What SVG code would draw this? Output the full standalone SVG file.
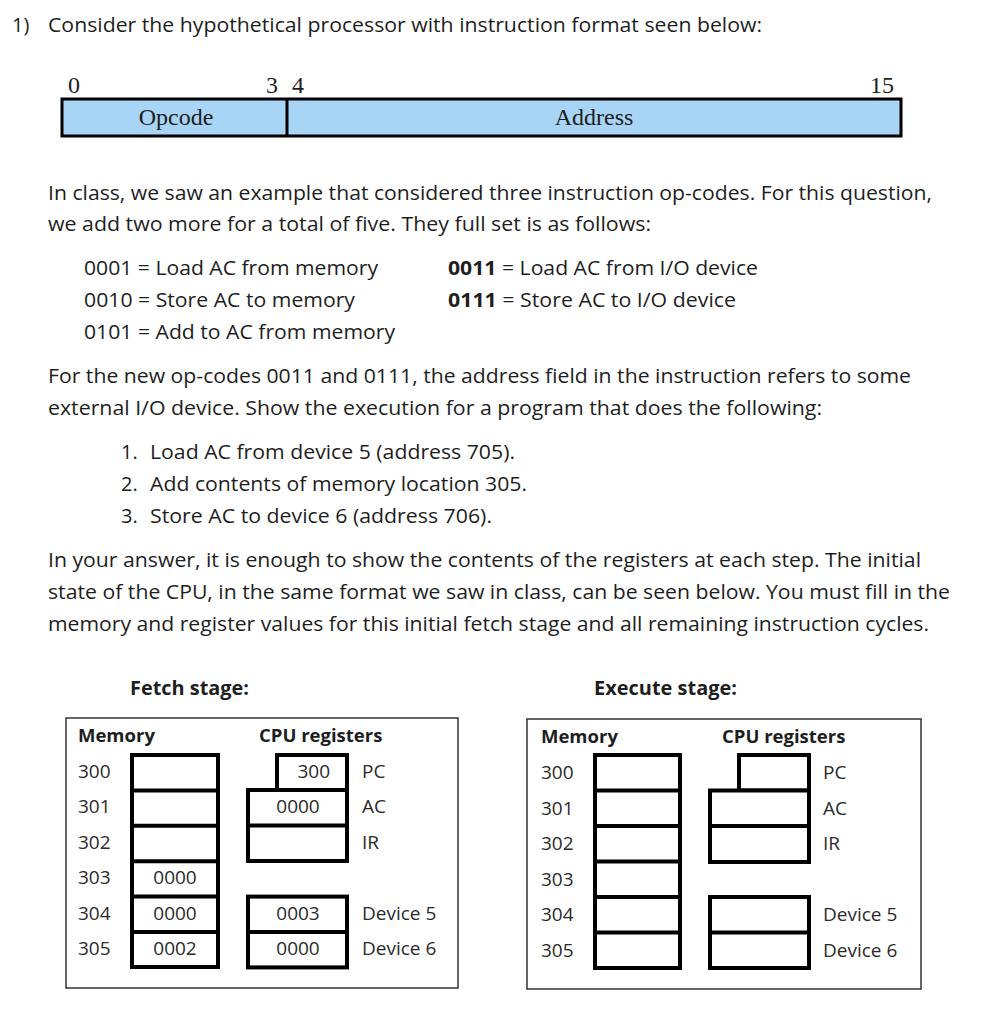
<svg xmlns="http://www.w3.org/2000/svg" width="989" height="1024" viewBox="0 0 989 1024">
<style>
.t{font-family:"Open Sans","Liberation Sans",sans-serif;font-size:20px;fill:#1e1e1e}
.b{font-weight:bold}
.s{font-family:"Liberation Serif","DejaVu Serif",serif;font-size:24px;fill:#1e1e1e}
.c{font-family:"Open Sans","Liberation Sans",sans-serif;font-size:19px;fill:#2a2a2a}
.h{font-family:"Open Sans","Liberation Sans",sans-serif;font-size:18.5px;font-weight:bold;fill:#1e1e1e}
.reg{fill:#fff;stroke:#000;stroke-width:4}
.ln{stroke:#000;stroke-width:4}
.panel{fill:#fff;stroke:#333;stroke-width:1.5}
</style>
<rect width="989" height="1024" fill="#fff"/>

<g id="text">
<text class="t" x="12" y="32">1)</text>
<text class="t" x="48" y="32" textLength="714" lengthAdjust="spacingAndGlyphs">Consider the hypothetical processor with instruction format seen below:</text>
<text class="t" x="48" y="200" textLength="884" lengthAdjust="spacingAndGlyphs">In class, we saw an example that considered three instruction op-codes. For this question,</text>
<text class="t" x="48" y="231" textLength="603" lengthAdjust="spacingAndGlyphs">we add two more for a total of five. They full set is as follows:</text>
<text class="t" x="84" y="275" textLength="294" lengthAdjust="spacingAndGlyphs">0001 = Load AC from memory</text>
<text class="t" x="448" y="275" textLength="310" lengthAdjust="spacingAndGlyphs"><tspan class="b">0011</tspan> = Load AC from I/O device</text>
<text class="t" x="84" y="307" textLength="271" lengthAdjust="spacingAndGlyphs">0010 = Store AC to memory</text>
<text class="t" x="448" y="307" textLength="288" lengthAdjust="spacingAndGlyphs"><tspan class="b">0111</tspan> = Store AC to I/O device</text>
<text class="t" x="84" y="339" textLength="311" lengthAdjust="spacingAndGlyphs">0101 = Add to AC from memory</text>
<text class="t" x="48" y="383" textLength="863" lengthAdjust="spacingAndGlyphs">For the new op-codes 0011 and 0111, the address field in the instruction refers to some</text>
<text class="t" x="48" y="415" textLength="774" lengthAdjust="spacingAndGlyphs">external I/O device. Show the execution for a program that does the following:</text>
<text class="t" x="121" y="459">1.</text>
<text class="t" x="150" y="459" textLength="365" lengthAdjust="spacingAndGlyphs">Load AC from device 5 (address 705).</text>
<text class="t" x="121" y="491">2.</text>
<text class="t" x="150" y="491" textLength="377" lengthAdjust="spacingAndGlyphs">Add contents of memory location 305.</text>
<text class="t" x="121" y="523">3.</text>
<text class="t" x="150" y="523" textLength="342" lengthAdjust="spacingAndGlyphs">Store AC to device 6 (address 706).</text>
<text class="t" x="48" y="567" textLength="873" lengthAdjust="spacingAndGlyphs">In your answer, it is enough to show the contents of the registers at each step. The initial</text>
<text class="t" x="48" y="599" textLength="902" lengthAdjust="spacingAndGlyphs">state of the CPU, in the same format we saw in class, can be seen below. You must fill in the</text>
<text class="t" x="48" y="631" textLength="881" lengthAdjust="spacingAndGlyphs">memory and register values for this initial fetch stage and all remaining instruction cycles.</text>
<text class="t b" x="130" y="695" textLength="119" lengthAdjust="spacingAndGlyphs">Fetch stage:</text>
<text class="t b" x="594" y="695" textLength="143" lengthAdjust="spacingAndGlyphs">Execute stage:</text>
</g>

<g id="instruction-format">
<rect x="62" y="99" width="839" height="37" fill="#a8d4f6" stroke="#000" stroke-width="3"/>
<line x1="287" y1="99" x2="287" y2="136" stroke="#000" stroke-width="3"/>
<text class="s" x="68" y="93">0</text>
<text class="s" x="266" y="93">3</text>
<text class="s" x="292" y="93">4</text>
<text class="s" x="894" y="93" text-anchor="end">15</text>
<text class="s" x="176" y="125" text-anchor="middle">Opcode</text>
<text class="s" x="594" y="125" text-anchor="middle">Address</text>
</g>

<g id="fetch-panel">
<rect class="panel" x="66" y="718" width="392" height="270"/>
<text class="h" x="78" y="742">Memory</text>
<text class="h" x="259" y="742">CPU registers</text>
<rect class="reg" x="132" y="755" width="86" height="212"/>
<line class="ln" x1="132" y1="790.4" x2="218" y2="790.4"/>
<line class="ln" x1="132" y1="825.8" x2="218" y2="825.8"/>
<line class="ln" x1="132" y1="861.2" x2="218" y2="861.2"/>
<line class="ln" x1="132" y1="896.6" x2="218" y2="896.6"/>
<line class="ln" x1="132" y1="932" x2="218" y2="932"/>
<text class="c" x="78" y="778">300</text>
<text class="c" x="78" y="813">301</text>
<text class="c" x="78" y="849">302</text>
<text class="c" x="78" y="884">303</text>
<text class="c" x="78" y="920">304</text>
<text class="c" x="78" y="955">305</text>
<text class="c" x="175" y="884" text-anchor="middle">0000</text>
<text class="c" x="175" y="920" text-anchor="middle">0000</text>
<text class="c" x="175" y="955" text-anchor="middle">0002</text>
<rect class="reg" x="277" y="755" width="70" height="35"/>
<rect class="reg" x="248" y="790" width="99" height="71"/>
<line class="ln" x1="248" y1="825.5" x2="347" y2="825.5"/>
<rect class="reg" x="248" y="896.6" width="99" height="70.8"/>
<line class="ln" x1="248" y1="932" x2="347" y2="932"/>
<text class="c" x="330" y="778" text-anchor="end">300</text>
<text class="c" x="298" y="813" text-anchor="middle">0000</text>
<text class="c" x="298" y="920" text-anchor="middle">0003</text>
<text class="c" x="298" y="955" text-anchor="middle">0000</text>
<text class="c" x="362" y="778">PC</text>
<text class="c" x="362" y="813">AC</text>
<text class="c" x="362" y="849">IR</text>
<text class="c" x="362" y="920">Device 5</text>
<text class="c" x="362" y="955">Device 6</text>
</g>

<g id="execute-panel">
<rect class="panel" x="527" y="719" width="394" height="270"/>
<text class="h" x="541" y="743">Memory</text>
<text class="h" x="722" y="743">CPU registers</text>
<rect class="reg" x="595" y="755" width="85" height="213"/>
<line class="ln" x1="595" y1="790.5" x2="680" y2="790.5"/>
<line class="ln" x1="595" y1="826" x2="680" y2="826"/>
<line class="ln" x1="595" y1="861.5" x2="680" y2="861.5"/>
<line class="ln" x1="595" y1="897" x2="680" y2="897"/>
<line class="ln" x1="595" y1="932.5" x2="680" y2="932.5"/>
<text class="c" x="541" y="779">300</text>
<text class="c" x="541" y="815">301</text>
<text class="c" x="541" y="850">302</text>
<text class="c" x="541" y="886">303</text>
<text class="c" x="541" y="921">304</text>
<text class="c" x="541" y="957">305</text>
<rect class="reg" x="739" y="755" width="70" height="35.5"/>
<rect class="reg" x="710" y="790.5" width="99" height="71.5"/>
<line class="ln" x1="710" y1="826" x2="809" y2="826"/>
<rect class="reg" x="710" y="897" width="99" height="71"/>
<line class="ln" x1="710" y1="932.5" x2="809" y2="932.5"/>
<text class="c" x="823" y="779">PC</text>
<text class="c" x="823" y="815">AC</text>
<text class="c" x="823" y="850">IR</text>
<text class="c" x="823" y="921">Device 5</text>
<text class="c" x="823" y="957">Device 6</text>
</g>
</svg>
